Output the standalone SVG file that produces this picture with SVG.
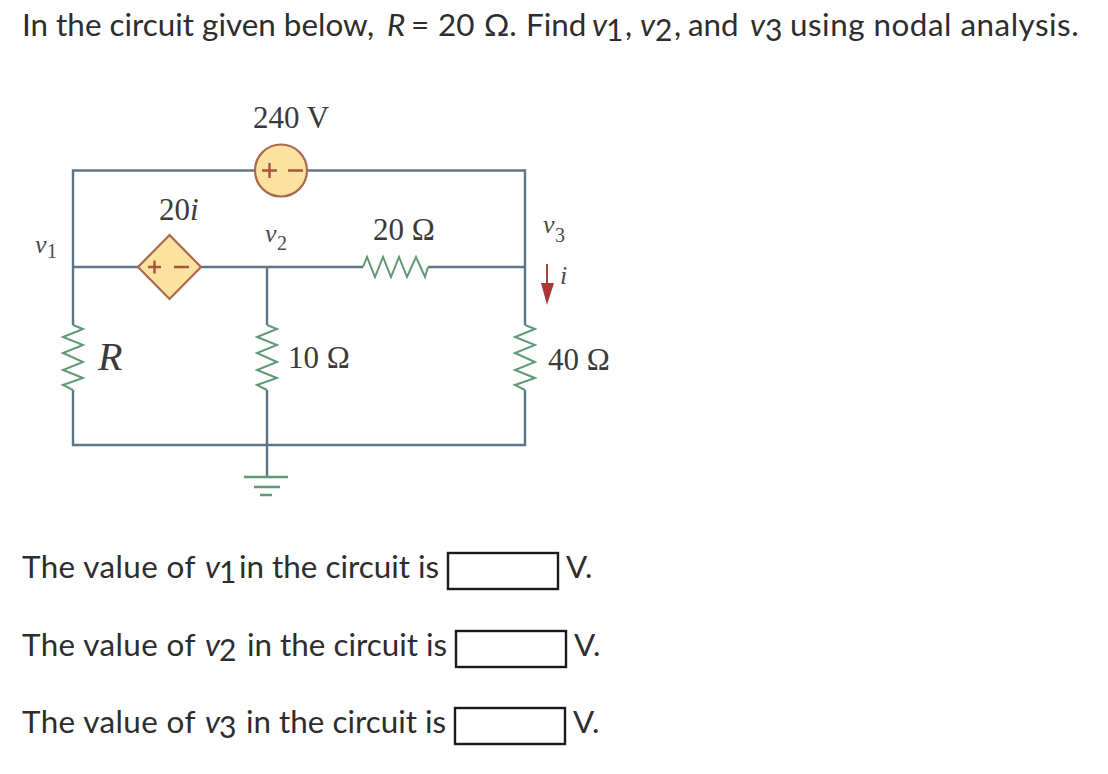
<svg xmlns="http://www.w3.org/2000/svg" width="1108" height="774" viewBox="0 0 1108 774">
<style>
.t{font-family:"Lato","Open Sans",sans-serif;font-size:31.4px;fill:#2d2d2f}
.i{font-style:italic}
.d{font-size:30px}
.c{font-family:"Liberation Serif","Times New Roman",serif;font-size:31px;fill:#3a3a3a}
.s{font-family:"Liberation Serif","Times New Roman",serif;font-size:26px;font-style:italic;fill:#4a4a4a}
.n{font-family:"Liberation Serif","Times New Roman",serif;font-size:20px;fill:#4a4a4a}
.w{fill:none;stroke:#5f7485;stroke-width:2.4}
.r{fill:none;stroke:#5f9a75;stroke-width:2;stroke-linejoin:miter}
.src{fill:#fbe2a0;stroke:#a9694c;stroke-width:2.2}
.p{fill:none;stroke:#a9543c;stroke-width:2.4}
.b{fill:#fff;stroke:#1a1a1a;stroke-width:2.4}
</style>
<rect width="1108" height="774" fill="#fff"/>
<g id="question">
<text class="t" y="36"><tspan x="22">In the circuit given below,</tspan><tspan x="387" class="i">R</tspan><tspan x="411">=</tspan><tspan x="438">20</tspan><tspan x="484">Ω.</tspan><tspan x="526">Find</tspan><tspan x="592" class="i">v</tspan><tspan x="606" dy="5" class="d">1</tspan><tspan x="625" dy="-5">,</tspan><tspan x="640" class="i">v</tspan><tspan x="655" dy="5" class="d">2</tspan><tspan x="674" dy="-5">,</tspan><tspan x="688">and</tspan><tspan x="750" class="i">v</tspan><tspan x="765" dy="5" class="d">3</tspan><tspan x="790" dy="-5" letter-spacing="0.5">using nodal analysis.</tspan></text>
</g>
<g id="connectors">
<path class="w" d="M255 170.500H73V267H138M73 267V325M73 390V445H525V390M308 170.500H525V325M201 267H363M428 267H525M267 267V325M267 390V477"/>
</g>
<g id="source-240V">
<circle class="src" cx="281" cy="170.500" r="26"/>
<path class="p" d="M262 170.500h15M269.500 163v15M288 170.500h15"/>
<text class="c" x="253" y="128">240 V</text>
</g>
<g id="source-20i">
<path class="src" d="M169.500 235L201 267L169.500 299L138 267Z"/>
<path class="p" d="M148 267h13M154.500 260.500v13M174 267h15"/>
<text class="c" x="159" y="220">20<tspan font-style="italic">i</tspan></text>
</g>
<g id="resistor-R">
<path class="r" d="M73 325L83 329L63 337L83 345L63 353L83 362L63 370L83 378L63 385L73 390"/>
<text class="c" x="98" y="370" font-style="italic" fill="#222" style="font-size:40px">R</text>
</g>
<g id="resistor-10">
<path class="r" d="M267 325L277 329L257 337L277 345L257 353L277 362L257 370L277 378L257 385L267 390"/>
<text class="c" x="288" y="368">10 Ω</text>
</g>
<g id="resistor-20">
<path class="r" d="M363 267L367 257L375 277L383 257L391 277L399 257L407 277L416 257L425 277L428 267"/>
<text class="c" x="373" y="240">20 Ω</text>
</g>
<g id="resistor-40">
<path class="r" d="M525 325L535 329L515 337L535 345L515 353L535 362L515 370L535 378L515 385L525 390"/>
<text class="c" x="548" y="370">40 Ω</text>
</g>
<g id="ground">
<path class="r" style="stroke-width:2.400" d="M244 477H288M254 487H280M260 495H272"/>
</g>
<g id="current-arrow">
<path d="M547 264V285" stroke="#a9423c" stroke-width="2" fill="none"/>
<path d="M541 283H554L547 305Z" fill="#a9383a"/>
<text class="s" x="560" y="284">i</text>
</g>
<g id="node-labels">
<text class="s" x="35" y="253">v</text><text class="n" x="47" y="258">1</text>
<text class="s" x="265" y="242">v</text><text class="n" x="277" y="250">2</text>
<text class="s" x="543" y="233">v</text><text class="n" x="555" y="242">3</text>
</g>
<g id="answer-1">
<text class="t" y="578"><tspan x="22" letter-spacing="0.4">The value of</tspan><tspan x="205" class="i">v</tspan><tspan x="219" dy="5" class="d">1</tspan><tspan x="239" dy="-5">in the circuit is</tspan></text>
<rect class="b" x="448" y="553" width="110" height="36"/>
<text class="t" x="566" y="578">V.</text>
</g>
<g id="answer-2">
<text class="t" y="656"><tspan x="22" letter-spacing="0.4">The value of</tspan><tspan x="205" class="i">v</tspan><tspan x="219" dy="5" class="d">2</tspan><tspan x="247" dy="-5">in the circuit is</tspan></text>
<rect class="b" x="456" y="631" width="110" height="36"/>
<text class="t" x="574" y="656">V.</text>
</g>
<g id="answer-3">
<text class="t" y="733"><tspan x="22" letter-spacing="0.4">The value of</tspan><tspan x="205" class="i">v</tspan><tspan x="219" dy="5" class="d">3</tspan><tspan x="246" dy="-5">in the circuit is</tspan></text>
<rect class="b" x="455" y="708" width="110" height="36"/>
<text class="t" x="573" y="733">V.</text>
</g>
</svg>
